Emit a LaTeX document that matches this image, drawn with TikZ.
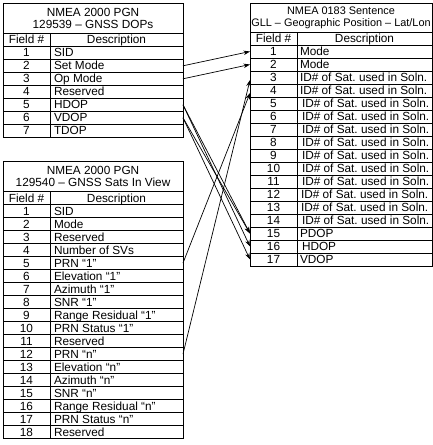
\documentclass[tikz,border=0pt]{standalone}
\usepackage{fontspec}
\setmainfont{Liberation Sans}
\usetikzlibrary{arrows.meta}
\frenchspacing
\begin{document}
\begin{tikzpicture}[x=1pt,y=-1pt,
  every node/.style={inner sep=0pt, outer sep=0pt},
  box/.style={draw, line width=0.8pt, anchor=north west, font=\fontsize{11.8}{13}\selectfont, text height=10.6pt, text depth=2.4pt, minimum height=13pt},
  numcell/.style={box, minimum width=#1},
  desccell/.style={box, minimum width=#1},
  titlecell/.style={draw, line width=0.8pt, anchor=north west, minimum width=#1, minimum height=30pt, align=center, font=\fontsize{11.8}{12.6}\selectfont},
  rtitlecell/.style={draw, line width=0.8pt, anchor=north west, minimum width=#1, minimum height=29pt, align=center, font=\fontsize{10.9}{12}\selectfont},
  link/.style={line width=0.7pt, -{Stealth[length=6.5pt,width=4.5pt]}}
]
\path[use as bounding box] (0,0) rectangle (433,445);

% ---------- Table A : PGN 129539 ----------
\node[titlecell=180pt] (A-title) at (3,3.3) {NMEA 2000 PGN\\129539 – GNSS DOPs};
\node[numcell=47pt] (A-fh) at (3,33.3) {Field \#};
\node[numcell=133pt] (A-dh) at (50,33.3) {Description};
\foreach \i/\t in {1/SID,2/Set Mode,3/Op Mode,4/Reserved,5/HDOP,6/VDOP,7/TDOP}{
  \node[numcell=47pt] (A-f\i) at (3,{46.3+13*(\i-1)}) {\i};
  \node[desccell=133pt] (A-d\i) at (50,{46.3+13*(\i-1)}) {\makebox[125pt][l]{\t}};
}

% ---------- Table B : PGN 129540 ----------
\node[titlecell=180pt] (B-title) at (3,161.5) {NMEA 2000 PGN\\129540 – GNSS Sats In View};
\node[numcell=47pt] (B-fh) at (3,191.5) {Field \#};
\node[numcell=133pt] (B-dh) at (50,191.5) {Description};
\foreach \i/\t in {1/SID,2/Mode,3/Reserved,4/Number of SVs,5/PRN “1”,6/Elevation “1”,7/Azimuth “1”,8/SNR “1”,9/Range Residual “1”,10/PRN Status “1”,11/Reserved,12/PRN “n”,13/Elevation “n”,14/Azimuth “n”,15/SNR “n”,16/Range Residual “n”,17/PRN Status “n”,18/Reserved}{
  \node[numcell=47pt] (B-f\i) at (3,{204.5+13*(\i-1)}) {\i};
  \node[desccell=133pt] (B-d\i) at (50,{204.5+13*(\i-1)}) {\makebox[125pt][l]{\t}};
}

% ---------- Table C : NMEA 0183 GLL ----------
\node[rtitlecell=182pt] (C-title) at (250,3) {NMEA 0183 Sentence\\GLL – Geographic Position – Lat/Lon};
\node[numcell=47pt] (C-fh) at (250,32) {Field \#};
\node[numcell=135pt] (C-dh) at (297,32) {Description};
\foreach \i/\t/\o in {1/Mode/0,2/Mode/0,3/ID\# of Sat. used in Soln./0,4/ID\# of Sat. used in Soln./0,5/ID\# of Sat. used in Soln./2,6/ID\# of Sat. used in Soln./2,7/ID\# of Sat. used in Soln./2,8/ID\# of Sat. used in Soln./2,9/ID\# of Sat. used in Soln./2,10/ID\# of Sat. used in Soln./2,11/ID\# of Sat. used in Soln./2,12/ID\# of Sat. used in Soln./1,13/ID\# of Sat. used in Soln./1,14/ID\# of Sat. used in Soln./2,15/PDOP/0,16/HDOP/2,17/VDOP/0}{
  \node[numcell=47pt] (C-f\i) at (250,{45+13*(\i-1)}) {\i};
  \node[desccell=135pt] (C-d\i) at (297,{45+13*(\i-1)}) {\makebox[129pt][l]{\hspace*{\o pt}\t}};
}

% ---------- Connectors ----------
\draw[link] (A-d2.east) -- (C-f1.west);
\draw[link] (A-d3.east) -- (C-f2.west);
\draw[link] (A-d5.east) -- (C-f15.west);
\draw[link] (A-d5.east) -- (C-f16.west);
\draw[link] (A-d6.east) -- (C-f15.west);
\draw[link] (A-d6.east) -- (C-f17.west);
\draw[link] (B-d5.east) -- ([yshift=-2.5pt]C-f4.west);
\draw[link] (B-d12.east) -- ([yshift=-2.5pt]C-f3.west);
\end{tikzpicture}
\end{document}
